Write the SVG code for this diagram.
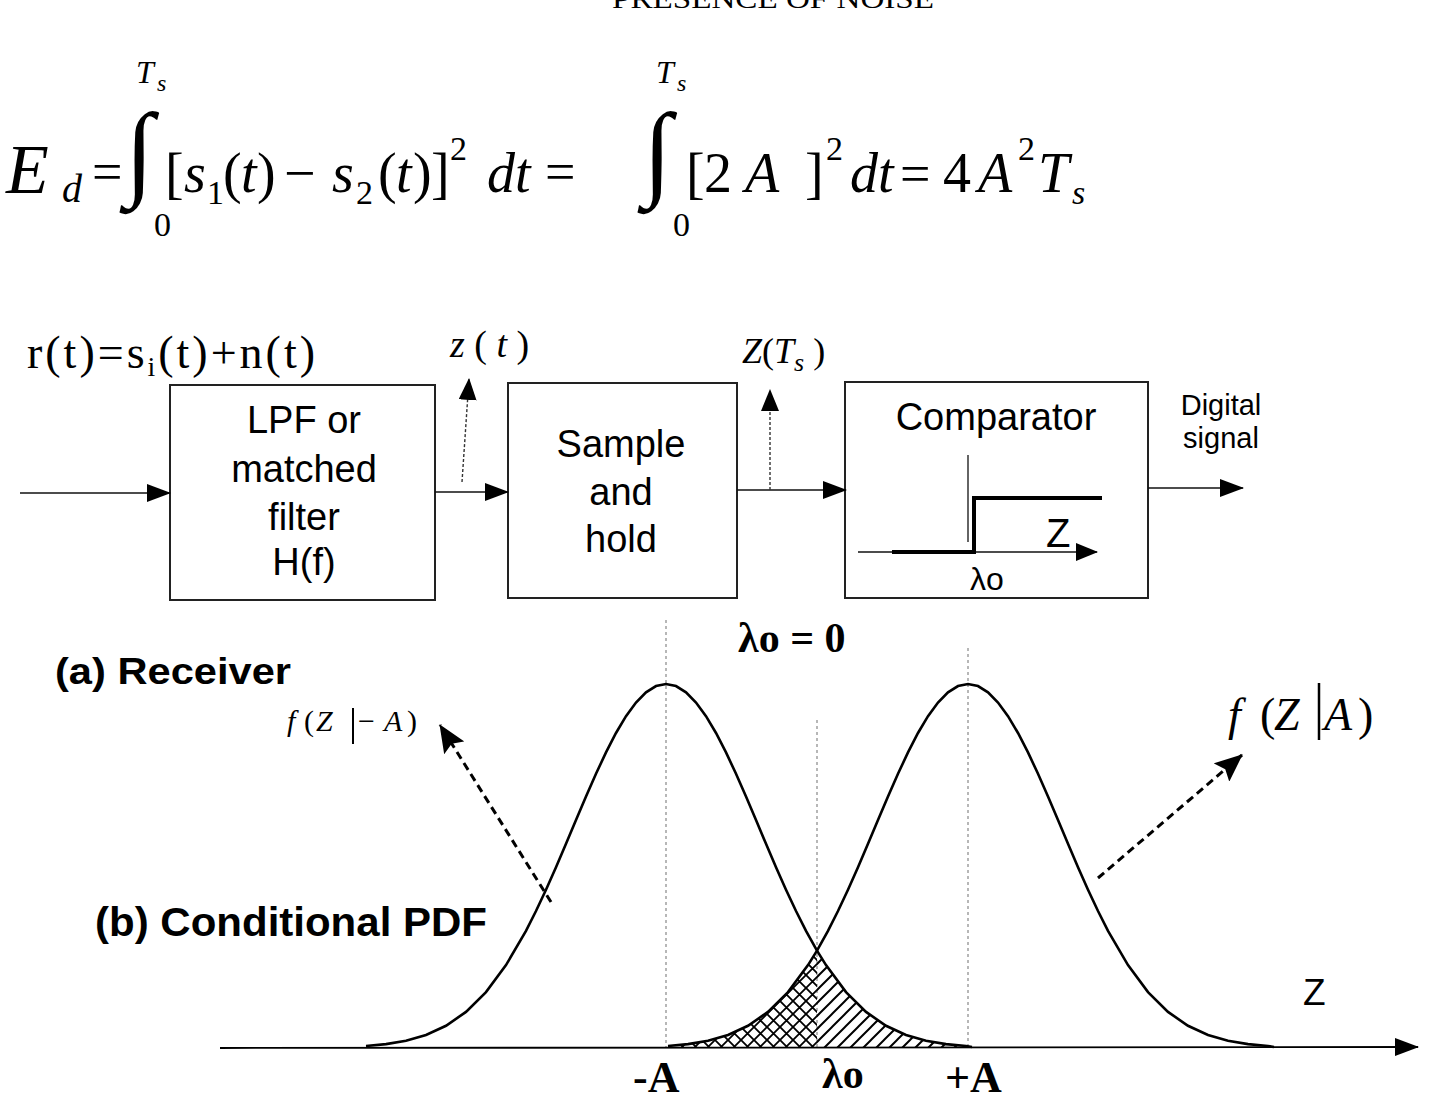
<svg xmlns="http://www.w3.org/2000/svg" width="1455" height="1120" viewBox="0 0 1455 1120">
<style>
  .ser { font-family: "Liberation Serif", "Times New Roman", serif; fill: #000; }
  .it { font-style: italic; }
  .sans { font-family: "Liberation Sans", Arial, sans-serif; fill: #000; }
  .box { fill: #fff; stroke: #222; stroke-width: 2; }
  .wire { stroke: #111; stroke-width: 1.6; fill: none; }
  .probe { stroke: #333; stroke-width: 1.4; stroke-dasharray: 3 2; fill: none; }
  .guide { stroke: #888; stroke-width: 1.2; stroke-dasharray: 3 3; fill: none; }
  .curve { stroke: #000; stroke-width: 2.6; fill: none; }
  .dash { stroke: #000; stroke-width: 3; stroke-dasharray: 8 5; fill: none; }
  .bt { font-size: 38px; text-anchor: middle; }
</style>
<defs>
  <marker id="ah" markerUnits="userSpaceOnUse" markerWidth="24" markerHeight="18" refX="23" refY="9" orient="auto">
    <path d="M0,0 L24,9 L0,18 Z" fill="#000"/>
  </marker>
  <marker id="ahs" markerUnits="userSpaceOnUse" markerWidth="22" markerHeight="18" refX="21" refY="9" orient="auto">
    <path d="M0,0 L22,9 L0,18 Z" fill="#000"/>
  </marker>
  <marker id="ahd" markerUnits="userSpaceOnUse" markerWidth="28" markerHeight="24" refX="27" refY="12" orient="auto">
    <path d="M0,0 L28,12 L0,24 L5,12 Z" fill="#000"/>
  </marker>
  <pattern id="cross" patternUnits="userSpaceOnUse" width="13" height="13">
    <path d="M0,0 L13,13 M13,0 L0,13" stroke="#000" stroke-width="1.8"/>
  </pattern>
  <pattern id="diag" patternUnits="userSpaceOnUse" width="13" height="13">
    <path d="M-3,3 L3,-3 M0,13 L13,0 M10,16 L16,10" stroke="#000" stroke-width="2"/>
  </pattern>
</defs>

<!-- header (cut off at the top edge, as in the reference) -->
<text class="ser" x="612" y="8" font-size="28" textLength="322" lengthAdjust="spacingAndGlyphs">PRESENCE OF NOISE</text>

<!-- equation -->
<g id="equation">
  <text class="ser it" x="6" y="193" font-size="70">E</text>
  <text class="ser it" x="62" y="202" font-size="40">d</text>
  <text class="ser" x="92" y="190" font-size="54">=</text>
  <text class="ser" x="125" y="186" font-size="105">∫</text>
  <text class="ser it" font-size="32"><tspan x="136" y="83">T</tspan><tspan x="157" y="91" font-size="24">s</tspan></text>
  <text class="ser" x="154" y="236" font-size="34">0</text>
  <text class="ser" font-size="56">
    <tspan x="165" y="192">[</tspan><tspan x="184" class="it">s</tspan><tspan x="207" y="204" font-size="34">1</tspan><tspan x="223" y="192">(</tspan><tspan x="241" class="it">t</tspan><tspan x="257">)</tspan><tspan x="284">−</tspan><tspan x="332" class="it">s</tspan><tspan x="356" y="204" font-size="34">2</tspan><tspan x="378" y="192">(</tspan><tspan x="396" class="it">t</tspan><tspan x="413">)</tspan><tspan x="431">]</tspan><tspan x="450" y="160" font-size="34">2</tspan><tspan x="487" y="192" class="it">dt</tspan>
  </text>
  <text class="ser" x="545" y="190" font-size="54">=</text>
  <text class="ser" x="643" y="186" font-size="105">∫</text>
  <text class="ser it" font-size="32"><tspan x="656" y="83">T</tspan><tspan x="677" y="91" font-size="24">s</tspan></text>
  <text class="ser" x="673" y="236" font-size="34">0</text>
  <text class="ser" font-size="56">
    <tspan x="686" y="192">[</tspan><tspan x="704">2</tspan><tspan x="745" class="it">A</tspan><tspan x="805">]</tspan><tspan x="826" y="160" font-size="34">2</tspan><tspan x="850" y="192" class="it">dt</tspan><tspan x="900" font-size="54">=</tspan><tspan x="943">4</tspan><tspan x="978" class="it">A</tspan><tspan x="1018" y="160" font-size="34">2</tspan><tspan x="1038" y="192" class="it">T</tspan><tspan x="1072" y="204" font-size="34" class="it">s</tspan>
  </text>
</g>

<!-- block diagram nodes -->
<g id="input-label">
  <text class="ser" x="27" y="368" font-size="46" textLength="288" lengthAdjust="spacing">r(t)=s<tspan font-size="28" dy="8">i</tspan><tspan dy="-8">(t)+n(t)</tspan></text>
</g>
<g id="lpf">
  <rect class="box" x="170" y="385" width="265" height="215"/>
  <text class="sans bt" x="304" y="433">LPF or</text>
  <text class="sans bt" x="304" y="482">matched</text>
  <text class="sans bt" x="304" y="530">filter</text>
  <text class="sans bt" x="304" y="575">H(f)</text>
</g>
<g id="sample-hold">
  <rect class="box" x="508" y="383" width="229" height="215"/>
  <text class="sans bt" x="621" y="457">Sample</text>
  <text class="sans bt" x="621" y="505">and</text>
  <text class="sans bt" x="621" y="552">hold</text>
</g>
<g id="comparator">
  <rect class="box" x="845" y="382" width="303" height="216"/>
  <text class="sans bt" x="996" y="430">Comparator</text>
  <line x1="968" y1="455" x2="968" y2="542" stroke="#111" stroke-width="1.3"/>
  <line x1="858" y1="552" x2="1097" y2="552" stroke="#111" stroke-width="1.3" marker-end="url(#ahs)"/>
  <polyline points="892,552 974,552 974,498 1102,498" fill="none" stroke="#000" stroke-width="4"/>
  <text class="sans" x="1046" y="547" font-size="40">Z</text>
  <text class="sans" x="970" y="590" font-size="32">λo</text>
</g>
<g id="output-label">
  <text class="sans" x="1221" y="415" font-size="29" text-anchor="middle">Digital</text>
  <text class="sans" x="1221" y="448" font-size="29" text-anchor="middle">signal</text>
</g>
<g id="probe-labels">
  <text class="ser it" x="450" y="357" font-size="38">z<tspan font-style="normal"> (</tspan> t<tspan font-style="normal"> )</tspan></text>
  <text class="ser it" x="742" y="363" font-size="36">Z<tspan font-style="normal">(</tspan>T<tspan font-size="26" dy="8">s</tspan><tspan font-style="normal" dy="-8"> )</tspan></text>
</g>

<!-- connectors -->
<g id="connectors">
  <line class="wire" x1="20" y1="493" x2="170" y2="493" marker-end="url(#ah)"/>
  <line class="wire" x1="435" y1="492" x2="508" y2="492" marker-end="url(#ah)"/>
  <line class="wire" x1="737" y1="490" x2="846" y2="490" marker-end="url(#ah)"/>
  <line class="wire" x1="1148" y1="488" x2="1243" y2="488" marker-end="url(#ah)"/>
  <line class="probe" x1="462" y1="482" x2="469" y2="379" marker-end="url(#ahs)"/>
  <line class="probe" x1="770" y1="490" x2="770" y2="390" marker-end="url(#ahs)"/>
  <line class="dash" x1="551" y1="902" x2="440" y2="725" marker-end="url(#ahd)"/>
  <line class="dash" x1="1098" y1="878" x2="1242" y2="755" marker-end="url(#ahd)"/>
</g>

<!-- PDF plot -->
<g id="pdf-plot">
  <line class="guide" x1="666" y1="620" x2="666" y2="1047"/>
  <line class="guide" x1="817" y1="720" x2="817" y2="1047"/>
  <line class="guide" x1="968" y1="648" x2="968" y2="1047"/>
  <path d="M817,950.6 L808,965.1 L788,992.1 L768,1011.9 L748,1025.8 L728,1035 L708,1040.7 L688,1044.1 L668,1046 L668,1048 L817,1048 Z" fill="url(#cross)"/>
  <path d="M817,950.6 L826,965.1 L846,992.1 L866,1011.9 L886,1025.8 L906,1035 L926,1040.7 L946,1044.1 L966,1046 L968,1048 L817,1048 Z" fill="url(#diag)"/>
  <path class="curve" d="M366,1046 L386,1044.1 L406,1040.7 L426,1035 L446,1025.8 L466,1011.9 L486,992.1 L506,965.1 L526,930.8 L536,911 L546,889.7 L556,867.2 L566,843.8 L576,820.1 L586,796.6 L596,773.8 L606,752.4 L616,733 L626,716.2 L636,702.5 L646,692.3 L656,686.1 L666,684 L676,686.1 L686,692.3 L696,702.5 L706,716.2 L716,733 L726,752.4 L736,773.8 L746,796.6 L756,820.1 L766,843.8 L776,867.2 L786,889.7 L796,911 L806,930.8 L817,950.6 L826,965.1 L846,992.1 L866,1011.9 L886,1025.8 L906,1035 L926,1040.7 L946,1044.1 L966,1046 L972,1047"/>
  <path class="curve" d="M668,1046 L688,1044.1 L708,1040.7 L728,1035 L748,1025.8 L768,1011.9 L788,992.1 L808,965.1 L817,950.6 L828,930.8 L838,911 L848,889.7 L858,867.2 L868,843.8 L878,820.1 L888,796.6 L898,773.8 L908,752.4 L918,733 L928,716.2 L938,702.5 L948,692.3 L958,686.1 L968,684 L978,686.1 L988,692.3 L998,702.5 L1008,716.2 L1018,733 L1028,752.4 L1038,773.8 L1048,796.6 L1058,820.1 L1068,843.8 L1078,867.2 L1088,889.7 L1098,911 L1108,930.8 L1128,965.1 L1148,992.1 L1168,1011.9 L1188,1025.8 L1208,1035 L1228,1040.7 L1248,1044.1 L1268,1046 L1274,1047"/>
  <line x1="220" y1="1048" x2="1418" y2="1047" stroke="#000" stroke-width="1.8" marker-end="url(#ah)"/>
  <text class="sans" x="1303" y="1005" font-size="37">Z</text>
  <text class="ser" x="633" y="1092" font-size="44" font-weight="bold">-A</text>
  <text class="ser" x="822" y="1088" font-size="42" font-weight="bold">λo</text>
  <text class="ser" x="945" y="1092" font-size="44" font-weight="bold">+A</text>
</g>

<g id="annotations">
  <text class="ser" x="738" y="652" font-size="42" font-weight="bold">λo = 0</text>
  <text class="sans" x="55" y="684" font-size="36" font-weight="bold" textLength="236" lengthAdjust="spacingAndGlyphs">(a) Receiver</text>
  <text class="sans" x="95" y="936" font-size="40" font-weight="bold" textLength="392" lengthAdjust="spacingAndGlyphs">(b) Conditional PDF</text>
  <text class="ser" font-size="30"><tspan x="287" y="731" class="it">f</tspan><tspan x="304">(</tspan><tspan x="316" class="it">Z</tspan><tspan x="358">−</tspan><tspan x="384" class="it">A</tspan><tspan x="407">)</tspan></text>
  <line x1="353" y1="708" x2="353" y2="744" stroke="#000" stroke-width="2"/>
  <text class="ser" font-size="46"><tspan x="1228" y="730" class="it">f</tspan><tspan x="1260">(</tspan><tspan x="1274" class="it">Z</tspan><tspan x="1324" class="it">A</tspan><tspan x="1358">)</tspan></text>
  <line x1="1319" y1="683" x2="1319" y2="740" stroke="#000" stroke-width="2.5"/>
</g>
</svg>
